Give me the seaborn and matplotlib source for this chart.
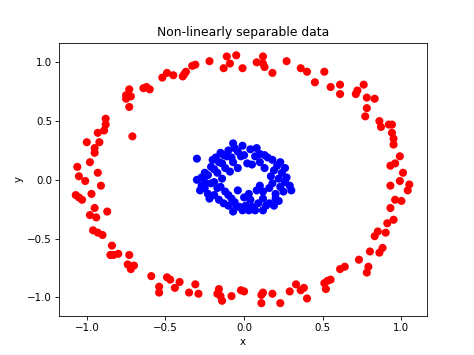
import pandas as pd
import matplotlib
matplotlib.use("Agg")
import matplotlib.pyplot as plt
import seaborn as sns

# outer ring (class 0, red)
red_x = [-0.11, -0.05, -0.09, -0.13, -0.01, -0.22, -0.31, -0.33, -0.37, -0.38, -0.39, -0.45,
         -0.49, -0.52, -0.62, -0.60, -0.64, -0.73, -0.75, -0.72, -0.75, -0.73, -0.71, -0.88,
         -0.88, -0.89, -0.93, -1.00, -0.92, -0.95, -0.95, -0.98, -1.06, -1.05, -0.93,
         -1.01, -0.91, -1.07, -1.05, -1.03, -0.97, -0.95, -0.98, -0.94, -0.87, -0.96, -0.93,
         -0.90, -0.84, -0.85, -0.83, -0.80, -0.73, -0.74, -0.70, -0.72, -0.59, -0.49, -0.47,
         -0.41, -0.44, -0.54, -0.54, -0.31, -0.35, -0.29, -0.16, -0.17, -0.15, -0.14, -0.08,
         -0.02, 0.00,
         0.12, 0.11, 0.11, 0.18, 0.23, 0.29, 0.33, 0.36, 0.38, 0.40, 0.51, 0.53, 0.55, 0.52,
         0.61, 0.64, 0.73, 0.79, 0.78, 0.80, 0.86, 0.88, 0.83, 0.85, 0.90, 0.91, 0.95, 0.93,
         0.96, 1.00, 0.93, 0.99, 1.05, 1.04,
         0.08, 0.12, 0.13, 0.12, 0.18, 0.27, 0.36, 0.40, 0.51, 0.45, 0.55, 0.61, 0.61, 0.71,
         0.72, 0.76, 0.78, 0.83, 0.78, 0.77, 0.86, 0.87, 0.92, 0.94, 0.94, 0.95, 0.95, 0.99,
         0.96, 0.93, 1.01]
red_y = [1.05, 1.06, 0.99, 0.95, 0.95, 1.01, 0.98, 0.97, 0.92, 0.90, 0.88, 0.89,
         0.91, 0.87, 0.79, 0.77, 0.78, 0.77, 0.72, 0.71, 0.69, 0.62, 0.37, 0.52,
         0.47, 0.42, 0.40, 0.32, 0.32, 0.27, 0.23, 0.15, 0.11, 0.03, 0.06,
         -0.01, -0.05, -0.13, -0.15, -0.17, -0.12, -0.24, -0.30, -0.32, -0.27, -0.43, -0.45,
         -0.47, -0.56, -0.64, -0.64, -0.63, -0.64, -0.72, -0.73, -0.76, -0.82, -0.83, -0.85,
         -0.87, -0.92, -0.91, -0.96, -0.89, -0.96, -0.97, -0.93, -0.97, -0.99, -1.03, -0.99,
         -0.94, -0.95,
         -0.96, -0.98, -1.05, -0.97, -1.05, -0.95, -0.89, -0.94, -0.92, -1.01, -0.88, -0.86, -0.85, -0.93,
         -0.76, -0.74, -0.68, -0.74, -0.79, -0.61, -0.62, -0.58, -0.48, -0.44, -0.45, -0.37, -0.34, -0.24,
         -0.17, -0.18, -0.05, -0.01, -0.04, -0.09,
         1.00, 1.05, 0.96, 0.99, 0.91, 1.01, 0.95, 0.92, 0.92, 0.83, 0.79, 0.81, 0.73, 0.73,
         0.76, 0.81, 0.70, 0.69, 0.61, 0.54, 0.50, 0.45, 0.47, 0.47, 0.40, 0.35, 0.30, 0.20,
         0.14, 0.12, 0.06]

# inner ring (class 1, blue)
blue_x = [-0.30, -0.07, -0.10, -0.06, -0.04, -0.15, -0.13, -0.20, -0.16, -0.21, -0.07, -0.04,
          -0.12, -0.09, -0.23, -0.17, -0.14, -0.30, -0.27, -0.25, -0.21, -0.17, -0.15, -0.28,
          -0.23, -0.22, -0.16, -0.10, -0.10, -0.06, -0.03, -0.07, -0.04,
          0.08, 0.00, 0.02, 0.07, 0.13, 0.18, 0.23, 0.13, 0.19, 0.24, 0.22, 0.17, 0.29,
          0.30, 0.23, 0.10, 0.08, 0.16, 0.20, 0.00, 0.04, 0.01, 0.12, 0.14, 0.12, 0.19,
          0.20, 0.05, 0.07,
          0.04, -0.01, 0.10, 0.15, 0.21, 0.26, 0.27, 0.26, 0.25, 0.22, 0.16, 0.09, 0.03,
          -0.01, -0.05, -0.13, -0.19, -0.25, -0.27, -0.25, -0.19, -0.18, -0.11, -0.02, -0.08,
          0.05, 0.10, -0.14, -0.19, -0.12, 0.18, 0.12, -0.08, 0.03]
blue_y = [0.18, 0.31, 0.25, 0.27, 0.24, 0.23, 0.21, 0.17, 0.15, 0.11, 0.15, 0.10,
          0.10, 0.07, 0.04, 0.06, 0.01, 0.00, -0.05, -0.02, -0.03, -0.07, -0.06, -0.09,
          -0.12, -0.16, -0.17, -0.13, -0.22, -0.19, -0.23, -0.27, -0.09,
          0.27, 0.21, 0.14, 0.20, 0.21, 0.17, 0.15, 0.10, 0.08, 0.06, 0.01, 0.03, -0.05,
          -0.09, -0.06, -0.05, -0.09, -0.07, -0.12, -0.15, -0.17, -0.22, -0.16, -0.22, -0.26, -0.22,
          -0.16, -0.23, -0.26,
          0.26, 0.29, 0.22, 0.19, 0.12, 0.10, 0.02, -0.02, -0.10, -0.18, -0.20, -0.20, -0.26,
          -0.26, -0.23, -0.20, -0.13, -0.07, 0.02, 0.06, 0.09, 0.19, 0.20, 0.20, 0.19,
          0.13, 0.15, 0.14, -0.02, -0.10, -0.03, -0.10, -0.16, -0.12]

df = pd.DataFrame({
    'x': red_x + blue_x,
    'y': red_y + blue_y,
    'label': ['outer'] * len(red_x) + ['inner'] * len(blue_x),
})

fig, ax = plt.subplots(figsize=(474 / 74, 355 / 74), dpi=74)
sns.scatterplot(data=df, x='x', y='y', hue='label',
                palette={'outer': 'red', 'inner': 'blue'},
                s=62, linewidth=0, legend=False, ax=ax)
ax.set_xlim(-1.175, 1.16)
ax.set_ylim(-1.159, 1.168)
ax.set_title('Non-linearly separable data')
ax.set_xlabel('x')
ax.set_ylabel('y')
fig.savefig('out.png', dpi=74)
